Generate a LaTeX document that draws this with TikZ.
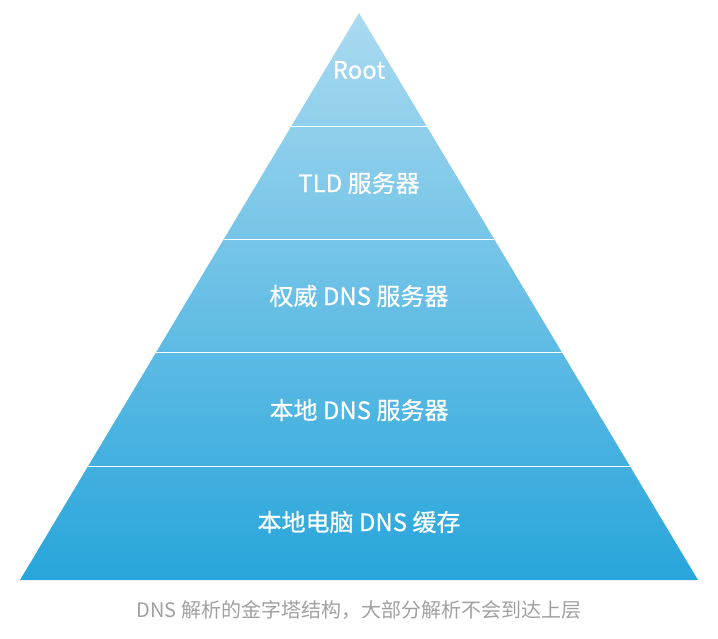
\documentclass[tikz,border=0pt]{standalone}
\usepackage{fontspec}
\setmainfont{Noto Sans CJK SC}
\newfontfamily\lblfont[FakeBold=0.6]{Noto Sans CJK SC}
\begin{document}
\begin{tikzpicture}[x=1pt,y=-1pt,
  lbl/.style={text=white,font=\lblfont\fontsize{24}{28}\selectfont,anchor=center},
  sep/.style={draw=white,line width=1pt}]
\useasboundingbox (0,0) rectangle (718,638);
\coordinate (apex) at (359,13);
\coordinate (bl) at (20,580);
\coordinate (br) at (698,580);
\shade[top color={rgb,255:red,170;green,218;blue,240},bottom color={rgb,255:red,40;green,165;blue,219}] (apex) -- (br) -- (bl) -- cycle;
\draw[sep] (291.4,126) -- (426.6,126);
\draw[sep] (223.9,239) -- (494.1,239);
\draw[sep] (156.3,352) -- (561.7,352);
\draw[sep] (88.2,466) -- (629.8,466);
\node[lbl] (root) at (359,70) {Root};
\node[lbl] (tld) at (359,183) {TLD 服务器};
\node[lbl] (auth) at (359,296) {权威 DNS 服务器};
\node[lbl] (local) at (359,410) {本地 DNS 服务器};
\node[lbl] (cache) at (359,522) {本地电脑 DNS 缓存};
\node[text={rgb,255:red,160;green,160;blue,160},font=\fontsize{20}{24}\selectfont] (cap) at (359,610) {DNS 解析的金字塔结构，大部分解析不会到达上层};
\end{tikzpicture}
\end{document}
